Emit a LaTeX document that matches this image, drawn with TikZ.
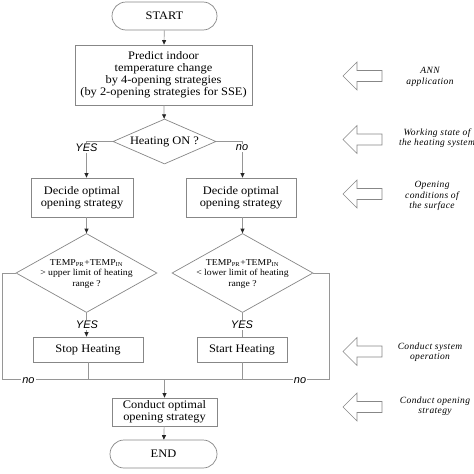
\documentclass[tikz,border=0pt]{standalone}
\usepackage{fontspec}
\setmainfont{Liberation Serif}[FakeStretch=1.08]
\newfontfamily\labfont{Liberation Sans}
\newfontfamily\sidefont{Liberation Serif}[LetterSpace=4]
\usetikzlibrary{shapes.geometric,arrows.meta}
\definecolor{boxgray}{RGB}{135,135,135}
\definecolor{linegray}{RGB}{150,150,150}
\begin{document}
\begin{tikzpicture}[x=1pt,y=-1pt,
  box/.style={draw=boxgray, line width=0.7pt, fill=white, inner sep=0pt, align=center,
    font=\fontsize{11.5}{12}\selectfont},
  term/.style={box, rounded corners=14pt},
  dec/.style={draw=boxgray, line width=0.7pt, fill=white, shape=diamond, inner sep=0pt},
  dectext/.style={font=\fontsize{9}{10.5}\selectfont, align=center, inner sep=0pt},
  conn/.style={draw=linegray, line width=0.7pt},
  arr/.style={conn, -{Triangle[length=4.5pt,width=4pt,color=black!85]}},
  yn/.style={font=\labfont\itshape\fontsize{11}{12}\selectfont, fill=white, inner sep=1pt},
  side/.style={font=\sidefont\itshape\fontsize{9.5}{10.5}\selectfont, align=center, inner sep=0pt},
  hollow/.pic={\draw[boxgray, line width=0.6pt, fill=white] (0,0) -- (14,-14) -- (14,-5.5) -- (39,-5.5) -- (39,5.5) -- (14,5.5) -- (14,14) -- cycle;}
]
\useasboundingbox (0,0) rectangle (474,474);

% main flow
\node[term, minimum width=105pt, minimum height=28pt] (start) at (164.5,16) {START};
\node[box, minimum width=177pt, minimum height=60pt] (predict) at (163.5,75)
  {Predict indoor\\temperature change\\by 4-opening strategies\\(by 2-opening strategies for SSE)};
\node[dec, minimum width=103pt, minimum height=45pt,
  label={[font=\fontsize{11.5}{12}\selectfont, inner sep=0pt]center:Heating ON ?}] (heat) at (164.5,141.5) {};
\node[box, minimum width=102pt, minimum height=39pt] (dL) at (82,197.5) {Decide optimal\\opening strategy};
\node[box, minimum width=110pt, minimum height=39pt] (dR) at (241,197.5) {Decide optimal\\opening strategy};
\node[dec, minimum width=141pt, minimum height=79pt,
  label={[dectext, yshift=-1pt]center:TEMP\textsubscript{PR}+TEMP\textsubscript{IN}\\> upper limit of heating\\range ?}] (mL) at (86.5,273) {};
\node[dec, minimum width=141pt, minimum height=79pt,
  label={[dectext, yshift=-1pt]center:TEMP\textsubscript{PR}+TEMP\textsubscript{IN}\\< lower limit of heating\\range ?}] (mR) at (242.5,273) {};
\node[box, minimum width=110pt, minimum height=25pt] (stop) at (88,349.5) {Stop Heating};
\node[box, minimum width=90pt, minimum height=25pt] (sth) at (242,349.5) {Start Heating};
\node[box, minimum width=105pt, minimum height=28pt] (cond) at (164.5,412) {Conduct optimal\\opening strategy};
\node[term, minimum width=107pt, minimum height=28pt] (end) at (163.5,454) {END};

\coordinate (bl) at (2,379.5);
\coordinate (br) at (329,379.5);

% connectors
\draw[arr] (start) -- (predict);
\draw[arr] (predict) -- (heat);
\draw[arr] (heat.west) -| (dL.north -| mL.north);
\draw[arr] (heat.east) -| (dR.north -| mR.north);
\draw[arr] (dL.south -| mL.north) -- (mL.north);
\draw[arr] (dR.south -| mR.north) -- (mR.north);
\draw[arr] (mL.south) -- (stop.north -| mL.south);
\draw[conn] (mR.south) -- (sth.north -| mR.south);
\draw[conn] (mL.west) -| (bl) -- (br) |- (mR.east);
\draw[conn] (stop.south) -- (stop.south |- bl);
\draw[conn] (sth.south) -- (sth.south |- bl);
\draw[arr] (cond.north |- bl) -- (cond.north);
\draw[arr] (cond) -- (end);

% branch labels
\node[yn] (y1) at (86.5,148) {YES};
\node[yn] (n1) at (242,148) {no};
\node[yn] (y2) at (87,325) {YES};
\node[yn] (y3) at (242,325) {YES};
\node[yn] (n2) at (28.5,380.5) {no};
\node[yn] (n3) at (300,380.5) {no};

% side annotations
\pic at (343,76) {hollow};
\pic at (343,139.5) {hollow};
\pic at (343,194) {hollow};
\pic at (343,351.5) {hollow};
\pic at (343,407) {hollow};
\node[side] (s1) at (430,77) {ANN\\application};
\node[side] (s2) at (437,138) {Working state of\\the heating system};
\node[side] (s3) at (432,196) {Opening\\conditions of\\the surface};
\node[side] (s4) at (430,352) {Conduct system\\operation};
\node[side] (s5) at (435,406) {Conduct opening\\strategy};
\end{tikzpicture}
\end{document}
